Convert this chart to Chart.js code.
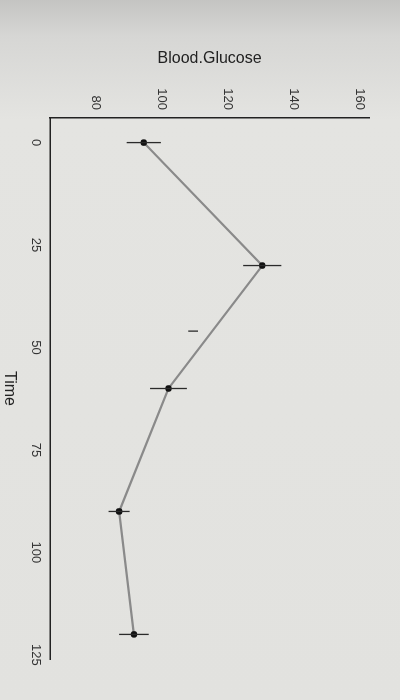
<!DOCTYPE html>
<html>
<head>
<meta charset="utf-8">
<script src="https://cdn.jsdelivr.net/npm/chart.js@4"></script>
<style>
  html, body { margin: 0; padding: 0; }
  body { width: 400px; height: 700px; overflow: hidden;
         background: linear-gradient(to bottom, #c4c4c2 0px, #d6d6d4 35px, #e4e4e1 120px, #e2e2df 700px); }
  #wrap { position: absolute; left: 0; top: 0; width: 680px; height: 380px;
          transform-origin: 0 0; transform: translate(380px, 0) rotate(90deg); }
</style>
</head>
<body>
<div id="wrap"><canvas id="chart" width="680" height="380"></canvas></div>
<script>
(function () {
    'use strict';

    // data (time vs blood glucose, with error bars)
    const times = [0, 30, 60, 90, 120];
    const glucose = [94.5, 130.5, 102, 87, 91.5];
    const glucoseErr = [5.2, 5.8, 5.6, 3.2, 4.5];
    const strayTime = [46];
    const strayGlucose = [109.5];
    const strayErr = [1.5];
    const timeTicks = [0, 25, 50, 75, 100, 125];
    const glucoseTicks = [80, 100, 120, 140, 160];

    const errorBars = {
        id: "errorBars",
        afterDatasetsDraw(chart) {
            const { ctx, scales: { x, y } } = chart;
            ctx.save();
            ctx.strokeStyle = "#2a2a2a";
            ctx.lineWidth = 1.3;
            const draw = (t, g, e) => {
                const px = x.getPixelForValue(t);
                ctx.beginPath();
                ctx.moveTo(px, y.getPixelForValue(g - e));
                ctx.lineTo(px, y.getPixelForValue(g + e));
                ctx.stroke();
            };
            times.forEach((t, i) => draw(t, glucose[i], glucoseErr[i]));
            strayTime.forEach((t, i) => draw(t, strayGlucose[i], strayErr[i]));
            ctx.restore();
        }
    };

    new Chart(document.getElementById("chart"), {
        type: "line",
        data: {
            datasets: [{
                data: times.map((t, i) => ({ x: t, y: glucose[i] })),
                borderColor: "#8a8a8a",
                borderWidth: 2.2,
                pointRadius: 2.2,
                pointBackgroundColor: "#111",
                pointBorderColor: "#111",
                tension: 0
            }]
        },
        plugins: [errorBars],
        options: {
            responsive: false,
            animation: false,
            layout: { padding: { top: 10, right: 21, left: 45, bottom: 0 } },
            plugins: { legend: { display: false }, tooltip: { enabled: false } },
            scales: {
                x: {
                    type: "linear", min: -6, max: 126,
                    afterFit(s) { s.height = 50; },
                    afterBuildTicks(s) { s.ticks = timeTicks.map(v => ({ value: v })); },
                    grid: { display: false, drawTicks: true, tickLength: 5, tickColor: "#333" },
                    border: { color: "#222", width: 1.5 },
                    ticks: { color: "#333", font: { family: "Liberation Sans", size: 13 }, maxRotation: 0, padding: 2 },
                    title: { display: true, text: "Time", color: "#222", font: { family: "Liberation Sans", size: 16 }, padding: 0 }
                },
                y: {
                    type: "linear", min: 66, max: 163,
                    afterFit(s) { s.width = 73; },
                    afterBuildTicks(s) { s.ticks = glucoseTicks.map(v => ({ value: v })); },
                    grid: { display: false, drawTicks: true, tickLength: 5, tickColor: "#333" },
                    border: { color: "#222", width: 1.5 },
                    ticks: { color: "#333", font: { family: "Liberation Sans", size: 13 }, padding: 3 },
                    title: { display: true, text: "Blood.Glucose", color: "#222", font: { family: "Liberation Sans", size: 16 }, padding: { bottom: 6 } }
                }
            }
        }
    });
})();
</script>
</body>
</html>
